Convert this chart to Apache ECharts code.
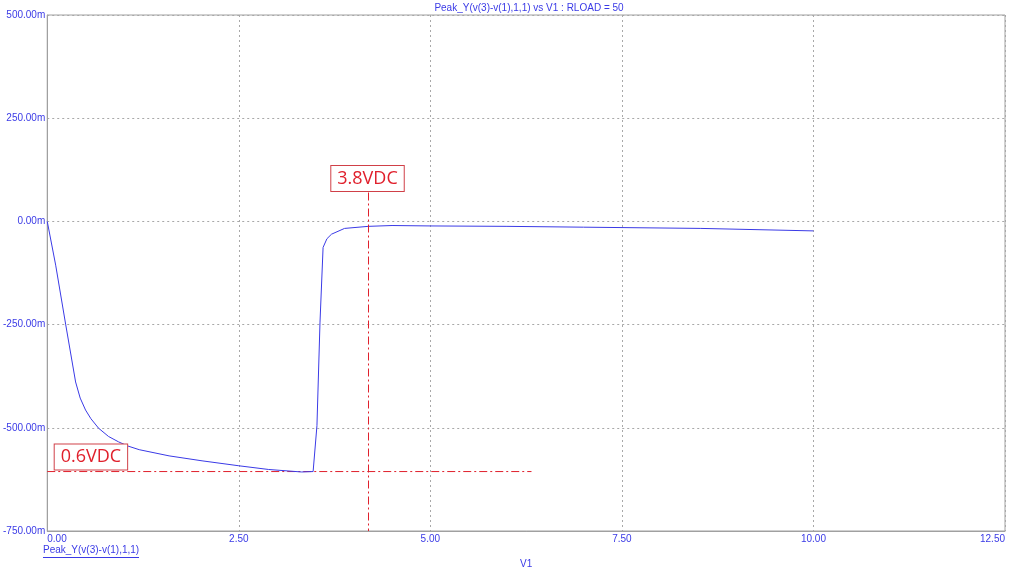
<!DOCTYPE html>
<html lang="en">
<head>
  <meta charset="UTF-8">
  <title>Peak_Y vs V1</title>
  <style>
    html, body{margin: 0; padding: 0; background: #fff}
    #chart{width: 1024px; height: 574px}
  </style>
  <script src="https://cdn.jsdelivr.net/npm/echarts@6/dist/echarts.min.js"></script>
  <script>
    // V1 sweep (volts) and Peak_Y(v(3)-v(1),1,1) (millivolts)
    const v1 = [0, 0.11, 0.24, 0.37, 0.43, 0.5, 0.57, 0.67, 0.8, 0.93, 1.05, 1.2, 1.59, 2.02, 2.5, 2.89, 3.32, 3.47,
      3.52, 3.56, 3.6, 3.65, 3.71, 3.88, 4.19, 4.5, 5, 6, 7, 8.53, 10];
    const peakY = [0, -106, -249, -389, -428, -457, -478, -501, -521, -534, -544, -553, -568, -580, -592, -601, -607, -606,
      -495, -244, -63, -42, -31, -17, -12, -10, -11, -12, -14, -17, -23];

    const xTicks = [0, 12.5, 2.5];      // min, max, step
    const yTicks = [-750, 500, 250];

    // annotation markers: [label, x, y]
    const notes = [['3.8VDC', 4.18, 104], ['0.6VDC', 0.57, -571]];
    const vLine = [4.19, 70, -750];      // x, from y, to y
    const hLine = [-606, 0, 6.32];       // y, from x, to x

    const blue = '#3a3ae6';
    const red = '#e0202c';
    const axisFont = '"Liberation Sans Narrow", "Liberation Sans", Arial, sans-serif';

    window.onload = function(){
      let chart = echarts.init(document.getElementById('chart'));
      let dashDot = {color: red, width: 1, type: [8, 3, 2, 3]};
      let option = {
        animation: false,
        title: {
          text: 'Peak_Y(v(3)-v(1),1,1) vs V1 : RLOAD = 50',
          left: 524, top: -2, textAlign: 'center',
          textStyle: {color: blue, fontSize: 10, fontWeight: 'normal', fontFamily: axisFont}
        },
        grid: {left: 45, right: 19, top: 15, bottom: 42, show: true, borderColor: '#a0a0a0', borderWidth: 1},
        xAxis: {
          type: 'value', min: xTicks[0], max: xTicks[1], interval: xTicks[2],
          name: 'V1', nameLocation: 'middle', nameGap: 28,
          nameTextStyle: {color: blue, fontSize: 10, fontFamily: axisFont},
          axisLine: {show: true, onZero: false, lineStyle: {color: '#a0a0a0'}},
          axisTick: {show: false},
          axisLabel: {color: blue, fontSize: 10, fontFamily: axisFont, margin: 3,
            alignMinLabel: 'left', alignMaxLabel: 'right',
            formatter: v => v.toFixed(2)},
          splitLine: {lineStyle: {color: '#a8a8a8', type: [2, 3]}}
        },
        yAxis: {
          type: 'value', min: yTicks[0], max: yTicks[1], interval: yTicks[2],
          axisLine: {show: true, onZero: false, lineStyle: {color: '#a0a0a0'}},
          axisTick: {show: false},
          axisLabel: {color: blue, fontSize: 10, fontFamily: axisFont, margin: 2,
            formatter: v => v.toFixed(2) + 'm'},
          splitLine: {lineStyle: {color: '#a8a8a8', type: [2, 3]}}
        },
        graphic: [{
          type: 'text', left: 43, top: 545,
          style: {text: 'Peak_Y(v(3)-v(1),1,1)', fill: blue, fontSize: 10, fontFamily: axisFont}
        }, {
          type: 'rect', left: 43, top: 557, shape: {width: 96, height: 1}, style: {fill: blue}
        }],
        series: [{
          // horizontal marker line at the minimum
          type: 'line', silent: true, z: 1,
          data: [[hLine[1], hLine[0]], [hLine[2], hLine[0]]],
          showSymbol: false,
          itemStyle: {color: red},
          lineStyle: dashDot
        }, {
          type: 'line', z: 2,
          data: v1.map((x, i) => [x, peakY[i]]),
          showSymbol: false,
          itemStyle: {color: blue},
          lineStyle: {color: blue, width: 1},
          markLine: {
            silent: true, symbol: 'none',
            label: {show: false},
            lineStyle: dashDot,
            data: [
              [{coord: [vLine[0], vLine[1]]}, {coord: [vLine[0], vLine[2]]}]
            ]
          },
          markPoint: {
            silent: true, symbol: 'rect', symbolSize: 0,
            label: {
              show: true, position: 'inside',
              formatter: p => p.name,
              color: red, fontSize: 18, fontFamily: '"Open Sans", sans-serif',
              backgroundColor: '#fff', borderColor: '#d04048', borderWidth: 1,
              padding: [4, 6, 3, 6]
            },
            data: notes.map(n => ({name: n[0], coord: [n[1], n[2]]}))
          }
        }]
      };
      chart.setOption(option);
    }
  </script>
</head>
<body>
  <div id="chart"></div>
</body>
</html>
